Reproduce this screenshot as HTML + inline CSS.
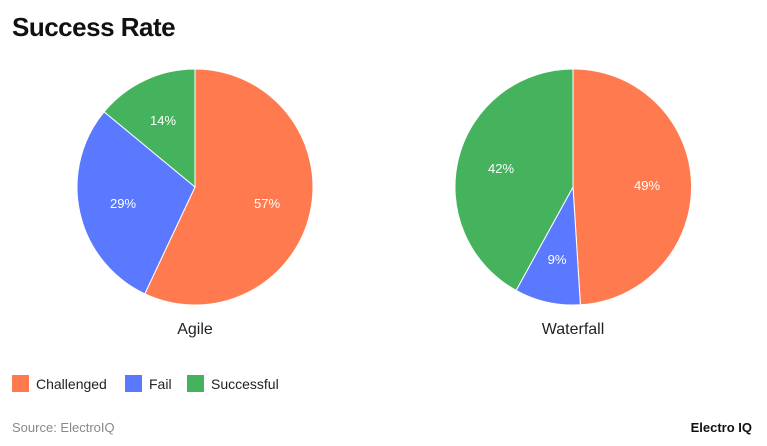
<!DOCTYPE html>
<html><head><style>
body{margin:0;width:767px;height:446px;background:#fff;font-family:"Liberation Sans",sans-serif;overflow:hidden;position:relative}
.t{position:absolute;left:12px;top:12px;font-size:26px;font-weight:bold;color:#111;letter-spacing:-0.5px}
</style></head><body>
<div class="t">Success Rate</div>
<svg width="767" height="446" style="position:absolute;left:0;top:0">
<g stroke="#fff" stroke-width="1">
<path d="M195,187 L195,69 A118,118 0 1,1 144.8,293.8 Z" fill="#FF7B4F"/>
<path d="M195,187 L144.8,293.8 A118,118 0 0,1 104.1,111.8 Z" fill="#5B79FF"/>
<path d="M195,187 L104.1,111.8 A118,118 0 0,1 195,69 Z" fill="#45B35D"/>
<path d="M573,187 L573,69 A118,118 0 0,1 580.4,304.8 Z" fill="#FF7B4F"/>
<path d="M573,187 L580.4,304.8 A118,118 0 0,1 516.1,290.4 Z" fill="#5B79FF"/>
<path d="M573,187 L516.1,290.4 A118,118 0 0,1 573,69 Z" fill="#45B35D"/>
</g>
<g fill="#fff" font-size="13" text-anchor="middle" font-family="Liberation Sans,sans-serif">
<text x="267" y="208">57%</text><text x="123" y="208">29%</text><text x="163" y="125">14%</text>
<text x="647" y="190">49%</text><text x="557" y="264">9%</text><text x="501" y="173">42%</text>
</g>
<g fill="#222" font-size="16" text-anchor="middle" font-family="Liberation Sans,sans-serif">
<text x="195" y="334">Agile</text><text x="573" y="334">Waterfall</text>
</g>
<rect x="12" y="375" width="17" height="17" fill="#FF7B4F"/>
<rect x="125" y="375" width="17" height="17" fill="#5B79FF"/>
<rect x="187" y="375" width="17" height="17" fill="#45B35D"/>
<g fill="#222" font-size="14" font-family="Liberation Sans,sans-serif">
<text x="36" y="389">Challenged</text><text x="149" y="389">Fail</text><text x="211" y="389">Successful</text>
</g>
<text x="12" y="432" fill="#888" font-size="13" font-family="Liberation Sans,sans-serif">Source: ElectroIQ</text>
<text x="752" y="432" fill="#111" font-size="13" font-weight="bold" text-anchor="end" font-family="Liberation Sans,sans-serif">Electro IQ</text>
</svg>
</body></html>
